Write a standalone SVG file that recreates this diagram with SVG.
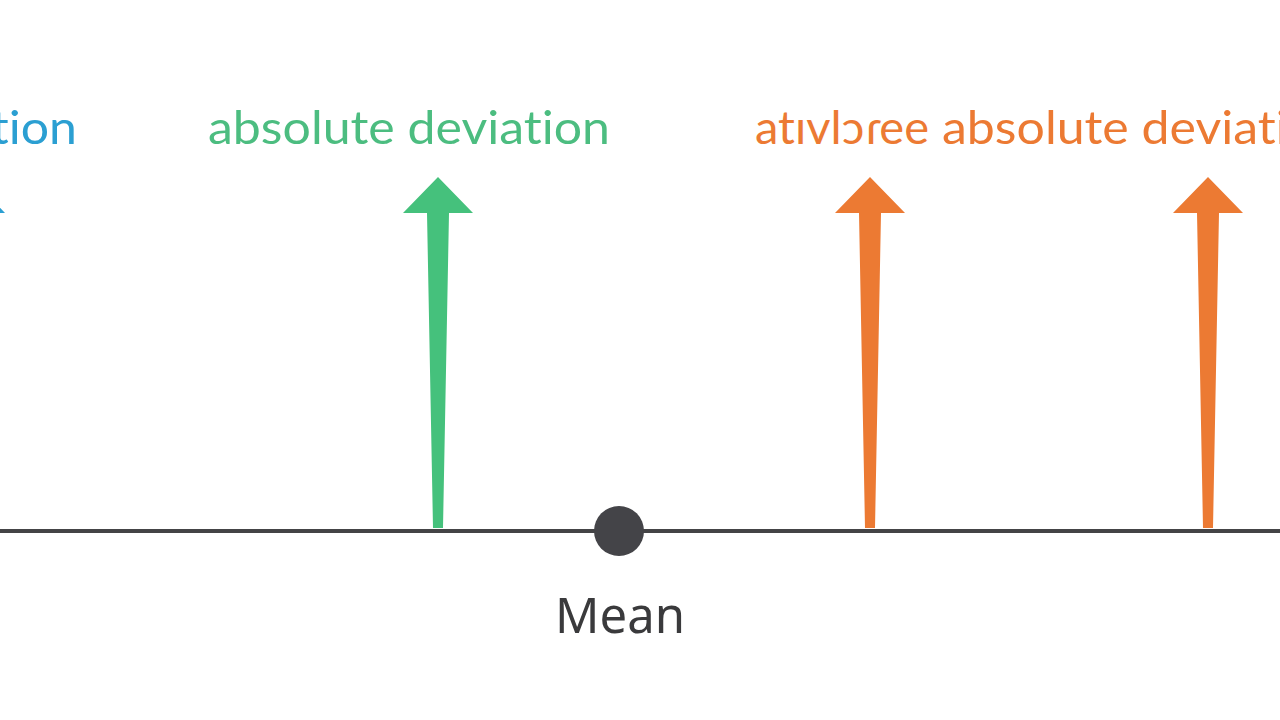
<svg xmlns="http://www.w3.org/2000/svg" width="1280" height="720" viewBox="0 0 1280 720">
<style>
.lbl{font-family:Lato,"Noto Sans","DejaVu Sans",sans-serif;font-size:47px;font-variant-ligatures:none;font-feature-settings:"liga" 0,"clig" 0}
.blue{fill:#2b9fd2}.green{fill:#4cbd80}.orange{fill:#ec7a33}
.axis{stroke:#444446;stroke-width:4}
</style>
<defs>
<path id="arr" d="M0,0 L35,36 L11,36 L5,351 L-5,351 L-11,36 L-35,36 Z"/>
</defs>
<rect width="1280" height="720" fill="#ffffff"/>
<g id="axis-group">
<line class="axis" x1="0" y1="531" x2="1280" y2="531"/>
</g>
<g id="connectors">
<use href="#arr" x="-30" y="177" class="blue"/>
<use href="#arr" x="438" y="177" fill="#45c17c"/>
<use href="#arr" x="870" y="177" fill="#ec7a33"/>
<use href="#arr" x="1208" y="177" fill="#ec7a33"/>
</g>
<g id="label-blue">
<text class="lbl blue" x="-325" y="144" textLength="402" lengthAdjust="spacingAndGlyphs">absolute deviation</text>
</g>
<g id="label-green">
<text class="lbl green" x="208" y="144" textLength="402" lengthAdjust="spacingAndGlyphs">absolute deviation</text>
</g>
<g id="label-orange">
<text class="lbl orange" y="144"><tspan x="755" textLength="174" lengthAdjust="spacingAndGlyphs">atıvlɔɾee</tspan><tspan x="942" textLength="402" lengthAdjust="spacingAndGlyphs">absolute deviation</tspan></text>
</g>
<g id="mean">
<circle cx="619" cy="531" r="25" fill="#444448"/>
<text x="620" y="633" text-anchor="middle" font-family="'Noto Sans','Open Sans',sans-serif" font-size="49" fill="#3a3a3c" textLength="130" lengthAdjust="spacingAndGlyphs">Mean</text>
</g>
</svg>
